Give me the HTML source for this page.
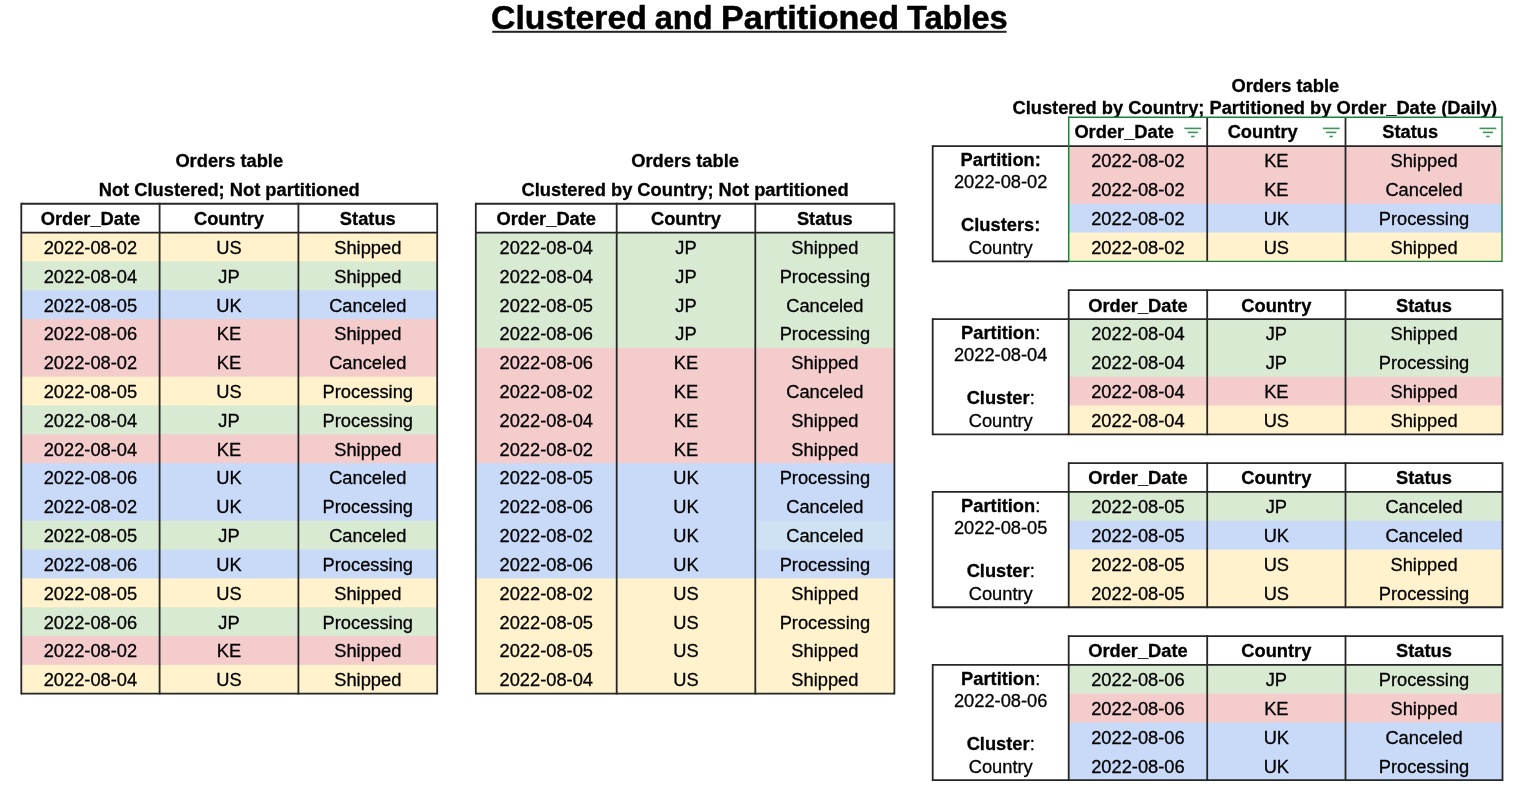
<!DOCTYPE html>
<html lang="en"><head><meta charset="utf-8"><title>Clustered and Partitioned Tables</title>
<style>
html,body{margin:0;padding:0;background:#fff;}
body{width:1536px;height:810px;overflow:hidden;}
body{position:relative;}
svg{display:block;position:absolute;left:0;top:0;}
svg.tx{transform:translateZ(0);will-change:transform;}
text{font-family:'Liberation Sans', Arial, sans-serif;font-size:18.3px;fill:#000;stroke:#000;stroke-width:0.3px;stroke-linejoin:round;}
.b{font-weight:700;}
.n{font-weight:400;}
.t{font-weight:700;font-size:32.7px;stroke-width:0.5px;}
</style></head><body>
<svg width="1536" height="810" viewBox="0 0 1536 810">
<rect x="0" y="0" width="1536" height="810" fill="#ffffff"/>
<rect x="21.30" y="232.58" width="415.90" height="29.82" fill="#fff2cc"/>
<rect x="21.30" y="261.40" width="415.90" height="29.82" fill="#d9ead3"/>
<rect x="21.30" y="290.22" width="415.90" height="29.82" fill="#c9daf8"/>
<rect x="21.30" y="319.04" width="415.90" height="29.82" fill="#f4cccc"/>
<rect x="21.30" y="347.86" width="415.90" height="29.82" fill="#f4cccc"/>
<rect x="21.30" y="376.68" width="415.90" height="29.82" fill="#fff2cc"/>
<rect x="21.30" y="405.50" width="415.90" height="29.82" fill="#d9ead3"/>
<rect x="21.30" y="434.32" width="415.90" height="29.82" fill="#f4cccc"/>
<rect x="21.30" y="463.14" width="415.90" height="29.82" fill="#c9daf8"/>
<rect x="21.30" y="491.96" width="415.90" height="29.82" fill="#c9daf8"/>
<rect x="21.30" y="520.78" width="415.90" height="29.82" fill="#d9ead3"/>
<rect x="21.30" y="549.60" width="415.90" height="29.82" fill="#c9daf8"/>
<rect x="21.30" y="578.42" width="415.90" height="29.82" fill="#fff2cc"/>
<rect x="21.30" y="607.24" width="415.90" height="29.82" fill="#d9ead3"/>
<rect x="21.30" y="636.06" width="415.90" height="29.82" fill="#f4cccc"/>
<rect x="21.30" y="664.88" width="415.90" height="28.82" fill="#fff2cc"/>
<line x1="21.30" y1="202.86" x2="21.30" y2="694.60" stroke="#262626" stroke-width="1.8"/>
<line x1="159.60" y1="202.86" x2="159.60" y2="694.60" stroke="#262626" stroke-width="1.8"/>
<line x1="298.40" y1="202.86" x2="298.40" y2="694.60" stroke="#262626" stroke-width="1.8"/>
<line x1="437.20" y1="202.86" x2="437.20" y2="694.60" stroke="#262626" stroke-width="1.8"/>
<line x1="21.30" y1="203.76" x2="437.20" y2="203.76" stroke="#262626" stroke-width="1.8"/>
<line x1="21.30" y1="232.58" x2="437.20" y2="232.58" stroke="#262626" stroke-width="1.8"/>
<line x1="21.30" y1="693.70" x2="437.20" y2="693.70" stroke="#262626" stroke-width="1.8"/>
<rect x="475.80" y="232.58" width="418.60" height="29.82" fill="#d9ead3"/>
<rect x="475.80" y="261.40" width="418.60" height="29.82" fill="#d9ead3"/>
<rect x="475.80" y="290.22" width="418.60" height="29.82" fill="#d9ead3"/>
<rect x="475.80" y="319.04" width="418.60" height="29.82" fill="#d9ead3"/>
<rect x="475.80" y="347.86" width="418.60" height="29.82" fill="#f4cccc"/>
<rect x="475.80" y="376.68" width="418.60" height="29.82" fill="#f4cccc"/>
<rect x="475.80" y="405.50" width="418.60" height="29.82" fill="#f4cccc"/>
<rect x="475.80" y="434.32" width="418.60" height="29.82" fill="#f4cccc"/>
<rect x="475.80" y="463.14" width="418.60" height="29.82" fill="#c9daf8"/>
<rect x="475.80" y="491.96" width="418.60" height="29.82" fill="#c9daf8"/>
<rect x="475.80" y="520.78" width="418.60" height="29.82" fill="#c9daf8"/>
<rect x="755.30" y="520.78" width="139.10" height="29.82" fill="#cfe2f3"/>
<rect x="475.80" y="549.60" width="418.60" height="29.82" fill="#c9daf8"/>
<rect x="475.80" y="578.42" width="418.60" height="29.82" fill="#fff2cc"/>
<rect x="475.80" y="607.24" width="418.60" height="29.82" fill="#fff2cc"/>
<rect x="475.80" y="636.06" width="418.60" height="29.82" fill="#fff2cc"/>
<rect x="475.80" y="664.88" width="418.60" height="28.82" fill="#fff2cc"/>
<line x1="475.80" y1="202.86" x2="475.80" y2="694.60" stroke="#262626" stroke-width="1.8"/>
<line x1="616.70" y1="202.86" x2="616.70" y2="694.60" stroke="#262626" stroke-width="1.8"/>
<line x1="755.30" y1="202.86" x2="755.30" y2="694.60" stroke="#262626" stroke-width="1.8"/>
<line x1="894.40" y1="202.86" x2="894.40" y2="694.60" stroke="#262626" stroke-width="1.8"/>
<line x1="475.80" y1="203.76" x2="894.40" y2="203.76" stroke="#262626" stroke-width="1.8"/>
<line x1="475.80" y1="232.58" x2="894.40" y2="232.58" stroke="#262626" stroke-width="1.8"/>
<line x1="475.80" y1="693.70" x2="894.40" y2="693.70" stroke="#262626" stroke-width="1.8"/>
<rect x="1068.70" y="146.12" width="433.80" height="29.82" fill="#f4cccc"/>
<rect x="1068.70" y="174.94" width="433.80" height="29.82" fill="#f4cccc"/>
<rect x="1068.70" y="203.76" width="433.80" height="29.82" fill="#c9daf8"/>
<rect x="1068.70" y="232.58" width="433.80" height="28.82" fill="#fff2cc"/>
<line x1="932.70" y1="145.22" x2="932.70" y2="262.30" stroke="#262626" stroke-width="1.8"/>
<line x1="932.70" y1="146.12" x2="1068.70" y2="146.12" stroke="#262626" stroke-width="1.8"/>
<line x1="932.70" y1="261.40" x2="1068.70" y2="261.40" stroke="#262626" stroke-width="1.8"/>
<line x1="1207.20" y1="117.30" x2="1207.20" y2="261.40" stroke="#262626" stroke-width="1.8"/>
<line x1="1345.50" y1="117.30" x2="1345.50" y2="261.40" stroke="#262626" stroke-width="1.8"/>
<line x1="1068.70" y1="146.12" x2="1502.50" y2="146.12" stroke="#262626" stroke-width="1.8"/>
<line x1="1068.70" y1="116.50" x2="1068.70" y2="262.20" stroke="#188038" stroke-width="1.5"/>
<line x1="1502.00" y1="116.50" x2="1502.00" y2="262.20" stroke="#188038" stroke-width="1.4"/>
<line x1="1068.70" y1="261.40" x2="1502.00" y2="261.40" stroke="#188038" stroke-width="1.4"/>
<line x1="1184.40" y1="128.40" x2="1201.20" y2="128.40" stroke="#3d9457" stroke-width="1.6"/>
<line x1="1187.70" y1="132.40" x2="1197.90" y2="132.40" stroke="#3d9457" stroke-width="1.6"/>
<line x1="1191.10" y1="136.50" x2="1194.50" y2="136.50" stroke="#3d9457" stroke-width="1.6"/>
<line x1="1322.80" y1="128.40" x2="1339.60" y2="128.40" stroke="#3d9457" stroke-width="1.6"/>
<line x1="1326.10" y1="132.40" x2="1336.30" y2="132.40" stroke="#3d9457" stroke-width="1.6"/>
<line x1="1329.50" y1="136.50" x2="1332.90" y2="136.50" stroke="#3d9457" stroke-width="1.6"/>
<line x1="1479.50" y1="128.40" x2="1496.30" y2="128.40" stroke="#3d9457" stroke-width="1.6"/>
<line x1="1482.80" y1="132.40" x2="1493.00" y2="132.40" stroke="#3d9457" stroke-width="1.6"/>
<line x1="1486.20" y1="136.50" x2="1489.60" y2="136.50" stroke="#3d9457" stroke-width="1.6"/>
<rect x="1068.70" y="319.04" width="433.80" height="29.82" fill="#d9ead3"/>
<rect x="1068.70" y="347.86" width="433.80" height="29.82" fill="#d9ead3"/>
<rect x="1068.70" y="376.68" width="433.80" height="29.82" fill="#f4cccc"/>
<rect x="1068.70" y="405.50" width="433.80" height="28.82" fill="#fff2cc"/>
<line x1="932.70" y1="318.14" x2="932.70" y2="435.22" stroke="#262626" stroke-width="1.8"/>
<line x1="932.70" y1="319.04" x2="1068.70" y2="319.04" stroke="#262626" stroke-width="1.8"/>
<line x1="932.70" y1="434.32" x2="1068.70" y2="434.32" stroke="#262626" stroke-width="1.8"/>
<line x1="1068.70" y1="289.32" x2="1068.70" y2="435.22" stroke="#262626" stroke-width="1.8"/>
<line x1="1207.20" y1="289.32" x2="1207.20" y2="435.22" stroke="#262626" stroke-width="1.8"/>
<line x1="1345.50" y1="289.32" x2="1345.50" y2="435.22" stroke="#262626" stroke-width="1.8"/>
<line x1="1502.50" y1="289.32" x2="1502.50" y2="435.22" stroke="#262626" stroke-width="1.8"/>
<line x1="1068.70" y1="290.22" x2="1502.50" y2="290.22" stroke="#262626" stroke-width="1.8"/>
<line x1="1068.70" y1="319.04" x2="1502.50" y2="319.04" stroke="#262626" stroke-width="1.8"/>
<line x1="1068.70" y1="434.32" x2="1502.50" y2="434.32" stroke="#262626" stroke-width="1.8"/>
<rect x="1068.70" y="491.96" width="433.80" height="29.82" fill="#d9ead3"/>
<rect x="1068.70" y="520.78" width="433.80" height="29.82" fill="#c9daf8"/>
<rect x="1068.70" y="549.60" width="433.80" height="29.82" fill="#fff2cc"/>
<rect x="1068.70" y="578.42" width="433.80" height="28.82" fill="#fff2cc"/>
<line x1="932.70" y1="491.06" x2="932.70" y2="608.14" stroke="#262626" stroke-width="1.8"/>
<line x1="932.70" y1="491.96" x2="1068.70" y2="491.96" stroke="#262626" stroke-width="1.8"/>
<line x1="932.70" y1="607.24" x2="1068.70" y2="607.24" stroke="#262626" stroke-width="1.8"/>
<line x1="1068.70" y1="462.24" x2="1068.70" y2="608.14" stroke="#262626" stroke-width="1.8"/>
<line x1="1207.20" y1="462.24" x2="1207.20" y2="608.14" stroke="#262626" stroke-width="1.8"/>
<line x1="1345.50" y1="462.24" x2="1345.50" y2="608.14" stroke="#262626" stroke-width="1.8"/>
<line x1="1502.50" y1="462.24" x2="1502.50" y2="608.14" stroke="#262626" stroke-width="1.8"/>
<line x1="1068.70" y1="463.14" x2="1502.50" y2="463.14" stroke="#262626" stroke-width="1.8"/>
<line x1="1068.70" y1="491.96" x2="1502.50" y2="491.96" stroke="#262626" stroke-width="1.8"/>
<line x1="1068.70" y1="607.24" x2="1502.50" y2="607.24" stroke="#262626" stroke-width="1.8"/>
<rect x="1068.70" y="664.88" width="433.80" height="29.82" fill="#d9ead3"/>
<rect x="1068.70" y="693.70" width="433.80" height="29.82" fill="#f4cccc"/>
<rect x="1068.70" y="722.52" width="433.80" height="29.82" fill="#c9daf8"/>
<rect x="1068.70" y="751.34" width="433.80" height="28.82" fill="#c9daf8"/>
<line x1="932.70" y1="663.98" x2="932.70" y2="781.06" stroke="#262626" stroke-width="1.8"/>
<line x1="932.70" y1="664.88" x2="1068.70" y2="664.88" stroke="#262626" stroke-width="1.8"/>
<line x1="932.70" y1="780.16" x2="1068.70" y2="780.16" stroke="#262626" stroke-width="1.8"/>
<line x1="1068.70" y1="635.16" x2="1068.70" y2="781.06" stroke="#262626" stroke-width="1.8"/>
<line x1="1207.20" y1="635.16" x2="1207.20" y2="781.06" stroke="#262626" stroke-width="1.8"/>
<line x1="1345.50" y1="635.16" x2="1345.50" y2="781.06" stroke="#262626" stroke-width="1.8"/>
<line x1="1502.50" y1="635.16" x2="1502.50" y2="781.06" stroke="#262626" stroke-width="1.8"/>
<line x1="1068.70" y1="636.06" x2="1502.50" y2="636.06" stroke="#262626" stroke-width="1.8"/>
<line x1="1068.70" y1="664.88" x2="1502.50" y2="664.88" stroke="#262626" stroke-width="1.8"/>
<line x1="1068.70" y1="780.16" x2="1502.50" y2="780.16" stroke="#262626" stroke-width="1.8"/>
<rect x="492.20" y="30.80" width="514.40" height="2.00" fill="#222"/>
</svg>
<svg class="tx" width="1536" height="810" viewBox="0 0 1536 810">
<defs><clipPath id="ct"><rect x="900" y="90" width="636" height="27.3"/></clipPath></defs>
<text x="90.45" y="225.06" class="b" text-anchor="middle">Order_Date</text>
<text x="90.45" y="253.88" class="n" text-anchor="middle">2022-08-02</text>
<text x="90.45" y="282.70" class="n" text-anchor="middle">2022-08-04</text>
<text x="90.45" y="311.52" class="n" text-anchor="middle">2022-08-05</text>
<text x="90.45" y="340.34" class="n" text-anchor="middle">2022-08-06</text>
<text x="90.45" y="369.16" class="n" text-anchor="middle">2022-08-02</text>
<text x="90.45" y="397.98" class="n" text-anchor="middle">2022-08-05</text>
<text x="90.45" y="426.80" class="n" text-anchor="middle">2022-08-04</text>
<text x="90.45" y="455.62" class="n" text-anchor="middle">2022-08-04</text>
<text x="90.45" y="484.44" class="n" text-anchor="middle">2022-08-06</text>
<text x="90.45" y="513.26" class="n" text-anchor="middle">2022-08-02</text>
<text x="90.45" y="542.08" class="n" text-anchor="middle">2022-08-05</text>
<text x="90.45" y="570.90" class="n" text-anchor="middle">2022-08-06</text>
<text x="90.45" y="599.72" class="n" text-anchor="middle">2022-08-05</text>
<text x="90.45" y="628.54" class="n" text-anchor="middle">2022-08-06</text>
<text x="90.45" y="657.36" class="n" text-anchor="middle">2022-08-02</text>
<text x="90.45" y="686.18" class="n" text-anchor="middle">2022-08-04</text>
<text x="229.00" y="225.06" class="b" text-anchor="middle">Country</text>
<text x="229.00" y="253.88" class="n" text-anchor="middle">US</text>
<text x="229.00" y="282.70" class="n" text-anchor="middle">JP</text>
<text x="229.00" y="311.52" class="n" text-anchor="middle">UK</text>
<text x="229.00" y="340.34" class="n" text-anchor="middle">KE</text>
<text x="229.00" y="369.16" class="n" text-anchor="middle">KE</text>
<text x="229.00" y="397.98" class="n" text-anchor="middle">US</text>
<text x="229.00" y="426.80" class="n" text-anchor="middle">JP</text>
<text x="229.00" y="455.62" class="n" text-anchor="middle">KE</text>
<text x="229.00" y="484.44" class="n" text-anchor="middle">UK</text>
<text x="229.00" y="513.26" class="n" text-anchor="middle">UK</text>
<text x="229.00" y="542.08" class="n" text-anchor="middle">JP</text>
<text x="229.00" y="570.90" class="n" text-anchor="middle">UK</text>
<text x="229.00" y="599.72" class="n" text-anchor="middle">US</text>
<text x="229.00" y="628.54" class="n" text-anchor="middle">JP</text>
<text x="229.00" y="657.36" class="n" text-anchor="middle">KE</text>
<text x="229.00" y="686.18" class="n" text-anchor="middle">US</text>
<text x="367.80" y="225.06" class="b" text-anchor="middle">Status</text>
<text x="367.80" y="253.88" class="n" text-anchor="middle">Shipped</text>
<text x="367.80" y="282.70" class="n" text-anchor="middle">Shipped</text>
<text x="367.80" y="311.52" class="n" text-anchor="middle">Canceled</text>
<text x="367.80" y="340.34" class="n" text-anchor="middle">Shipped</text>
<text x="367.80" y="369.16" class="n" text-anchor="middle">Canceled</text>
<text x="367.80" y="397.98" class="n" text-anchor="middle">Processing</text>
<text x="367.80" y="426.80" class="n" text-anchor="middle">Processing</text>
<text x="367.80" y="455.62" class="n" text-anchor="middle">Shipped</text>
<text x="367.80" y="484.44" class="n" text-anchor="middle">Canceled</text>
<text x="367.80" y="513.26" class="n" text-anchor="middle">Processing</text>
<text x="367.80" y="542.08" class="n" text-anchor="middle">Canceled</text>
<text x="367.80" y="570.90" class="n" text-anchor="middle">Processing</text>
<text x="367.80" y="599.72" class="n" text-anchor="middle">Shipped</text>
<text x="367.80" y="628.54" class="n" text-anchor="middle">Processing</text>
<text x="367.80" y="657.36" class="n" text-anchor="middle">Shipped</text>
<text x="367.80" y="686.18" class="n" text-anchor="middle">Shipped</text>
<text x="229.25" y="167.42" class="b" text-anchor="middle">Orders table</text>
<text x="229.25" y="196.24" class="b" text-anchor="middle">Not Clustered; Not partitioned</text>
<text x="546.25" y="225.06" class="b" text-anchor="middle">Order_Date</text>
<text x="546.25" y="253.88" class="n" text-anchor="middle">2022-08-04</text>
<text x="546.25" y="282.70" class="n" text-anchor="middle">2022-08-04</text>
<text x="546.25" y="311.52" class="n" text-anchor="middle">2022-08-05</text>
<text x="546.25" y="340.34" class="n" text-anchor="middle">2022-08-06</text>
<text x="546.25" y="369.16" class="n" text-anchor="middle">2022-08-06</text>
<text x="546.25" y="397.98" class="n" text-anchor="middle">2022-08-02</text>
<text x="546.25" y="426.80" class="n" text-anchor="middle">2022-08-04</text>
<text x="546.25" y="455.62" class="n" text-anchor="middle">2022-08-02</text>
<text x="546.25" y="484.44" class="n" text-anchor="middle">2022-08-05</text>
<text x="546.25" y="513.26" class="n" text-anchor="middle">2022-08-06</text>
<text x="546.25" y="542.08" class="n" text-anchor="middle">2022-08-02</text>
<text x="546.25" y="570.90" class="n" text-anchor="middle">2022-08-06</text>
<text x="546.25" y="599.72" class="n" text-anchor="middle">2022-08-02</text>
<text x="546.25" y="628.54" class="n" text-anchor="middle">2022-08-05</text>
<text x="546.25" y="657.36" class="n" text-anchor="middle">2022-08-05</text>
<text x="546.25" y="686.18" class="n" text-anchor="middle">2022-08-04</text>
<text x="686.00" y="225.06" class="b" text-anchor="middle">Country</text>
<text x="686.00" y="253.88" class="n" text-anchor="middle">JP</text>
<text x="686.00" y="282.70" class="n" text-anchor="middle">JP</text>
<text x="686.00" y="311.52" class="n" text-anchor="middle">JP</text>
<text x="686.00" y="340.34" class="n" text-anchor="middle">JP</text>
<text x="686.00" y="369.16" class="n" text-anchor="middle">KE</text>
<text x="686.00" y="397.98" class="n" text-anchor="middle">KE</text>
<text x="686.00" y="426.80" class="n" text-anchor="middle">KE</text>
<text x="686.00" y="455.62" class="n" text-anchor="middle">KE</text>
<text x="686.00" y="484.44" class="n" text-anchor="middle">UK</text>
<text x="686.00" y="513.26" class="n" text-anchor="middle">UK</text>
<text x="686.00" y="542.08" class="n" text-anchor="middle">UK</text>
<text x="686.00" y="570.90" class="n" text-anchor="middle">UK</text>
<text x="686.00" y="599.72" class="n" text-anchor="middle">US</text>
<text x="686.00" y="628.54" class="n" text-anchor="middle">US</text>
<text x="686.00" y="657.36" class="n" text-anchor="middle">US</text>
<text x="686.00" y="686.18" class="n" text-anchor="middle">US</text>
<text x="824.85" y="225.06" class="b" text-anchor="middle">Status</text>
<text x="824.85" y="253.88" class="n" text-anchor="middle">Shipped</text>
<text x="824.85" y="282.70" class="n" text-anchor="middle">Processing</text>
<text x="824.85" y="311.52" class="n" text-anchor="middle">Canceled</text>
<text x="824.85" y="340.34" class="n" text-anchor="middle">Processing</text>
<text x="824.85" y="369.16" class="n" text-anchor="middle">Shipped</text>
<text x="824.85" y="397.98" class="n" text-anchor="middle">Canceled</text>
<text x="824.85" y="426.80" class="n" text-anchor="middle">Shipped</text>
<text x="824.85" y="455.62" class="n" text-anchor="middle">Shipped</text>
<text x="824.85" y="484.44" class="n" text-anchor="middle">Processing</text>
<text x="824.85" y="513.26" class="n" text-anchor="middle">Canceled</text>
<text x="824.85" y="542.08" class="n" text-anchor="middle">Canceled</text>
<text x="824.85" y="570.90" class="n" text-anchor="middle">Processing</text>
<text x="824.85" y="599.72" class="n" text-anchor="middle">Shipped</text>
<text x="824.85" y="628.54" class="n" text-anchor="middle">Processing</text>
<text x="824.85" y="657.36" class="n" text-anchor="middle">Shipped</text>
<text x="824.85" y="686.18" class="n" text-anchor="middle">Shipped</text>
<text x="685.10" y="167.42" class="b" text-anchor="middle">Orders table</text>
<text x="685.10" y="196.24" class="b" text-anchor="middle">Clustered by Country; Not partitioned</text>
<text x="1137.95" y="167.42" class="n" text-anchor="middle">2022-08-02</text>
<text x="1137.95" y="196.24" class="n" text-anchor="middle">2022-08-02</text>
<text x="1137.95" y="225.06" class="n" text-anchor="middle">2022-08-02</text>
<text x="1137.95" y="253.88" class="n" text-anchor="middle">2022-08-02</text>
<text x="1276.35" y="167.42" class="n" text-anchor="middle">KE</text>
<text x="1276.35" y="196.24" class="n" text-anchor="middle">KE</text>
<text x="1276.35" y="225.06" class="n" text-anchor="middle">UK</text>
<text x="1276.35" y="253.88" class="n" text-anchor="middle">US</text>
<text x="1424.00" y="167.42" class="n" text-anchor="middle">Shipped</text>
<text x="1424.00" y="196.24" class="n" text-anchor="middle">Canceled</text>
<text x="1424.00" y="225.06" class="n" text-anchor="middle">Processing</text>
<text x="1424.00" y="253.88" class="n" text-anchor="middle">Shipped</text>
<text x="1000.70" y="165.92" class="b" text-anchor="middle">Partition:</text>
<text x="1000.70" y="187.77" class="n" text-anchor="middle">2022-08-02</text>
<text x="1000.70" y="231.47" class="b" text-anchor="middle">Clusters:</text>
<text x="1000.70" y="253.82" class="n" text-anchor="middle">Country</text>
<text x="1074.40" y="138.00" class="b" text-anchor="start">Order_Date</text>
<text x="1262.70" y="138.00" class="b" text-anchor="middle">Country</text>
<text x="1410.25" y="138.00" class="b" text-anchor="middle">Status</text>
<text x="1137.95" y="311.52" class="b" text-anchor="middle">Order_Date</text>
<text x="1137.95" y="340.34" class="n" text-anchor="middle">2022-08-04</text>
<text x="1137.95" y="369.16" class="n" text-anchor="middle">2022-08-04</text>
<text x="1137.95" y="397.98" class="n" text-anchor="middle">2022-08-04</text>
<text x="1137.95" y="426.80" class="n" text-anchor="middle">2022-08-04</text>
<text x="1276.35" y="311.52" class="b" text-anchor="middle">Country</text>
<text x="1276.35" y="340.34" class="n" text-anchor="middle">JP</text>
<text x="1276.35" y="369.16" class="n" text-anchor="middle">JP</text>
<text x="1276.35" y="397.98" class="n" text-anchor="middle">KE</text>
<text x="1276.35" y="426.80" class="n" text-anchor="middle">US</text>
<text x="1424.00" y="311.52" class="b" text-anchor="middle">Status</text>
<text x="1424.00" y="340.34" class="n" text-anchor="middle">Shipped</text>
<text x="1424.00" y="369.16" class="n" text-anchor="middle">Processing</text>
<text x="1424.00" y="397.98" class="n" text-anchor="middle">Shipped</text>
<text x="1424.00" y="426.80" class="n" text-anchor="middle">Shipped</text>
<text x="1000.70" y="338.84" class="n" text-anchor="middle"><tspan class="b">Partition</tspan>:</text>
<text x="1000.70" y="360.69" class="n" text-anchor="middle">2022-08-04</text>
<text x="1000.70" y="404.39" class="n" text-anchor="middle"><tspan class="b">Cluster</tspan>:</text>
<text x="1000.70" y="426.74" class="n" text-anchor="middle">Country</text>
<text x="1137.95" y="484.44" class="b" text-anchor="middle">Order_Date</text>
<text x="1137.95" y="513.26" class="n" text-anchor="middle">2022-08-05</text>
<text x="1137.95" y="542.08" class="n" text-anchor="middle">2022-08-05</text>
<text x="1137.95" y="570.90" class="n" text-anchor="middle">2022-08-05</text>
<text x="1137.95" y="599.72" class="n" text-anchor="middle">2022-08-05</text>
<text x="1276.35" y="484.44" class="b" text-anchor="middle">Country</text>
<text x="1276.35" y="513.26" class="n" text-anchor="middle">JP</text>
<text x="1276.35" y="542.08" class="n" text-anchor="middle">UK</text>
<text x="1276.35" y="570.90" class="n" text-anchor="middle">US</text>
<text x="1276.35" y="599.72" class="n" text-anchor="middle">US</text>
<text x="1424.00" y="484.44" class="b" text-anchor="middle">Status</text>
<text x="1424.00" y="513.26" class="n" text-anchor="middle">Canceled</text>
<text x="1424.00" y="542.08" class="n" text-anchor="middle">Canceled</text>
<text x="1424.00" y="570.90" class="n" text-anchor="middle">Shipped</text>
<text x="1424.00" y="599.72" class="n" text-anchor="middle">Processing</text>
<text x="1000.70" y="511.76" class="n" text-anchor="middle"><tspan class="b">Partition</tspan>:</text>
<text x="1000.70" y="533.61" class="n" text-anchor="middle">2022-08-05</text>
<text x="1000.70" y="577.31" class="n" text-anchor="middle"><tspan class="b">Cluster</tspan>:</text>
<text x="1000.70" y="599.66" class="n" text-anchor="middle">Country</text>
<text x="1137.95" y="657.36" class="b" text-anchor="middle">Order_Date</text>
<text x="1137.95" y="686.18" class="n" text-anchor="middle">2022-08-06</text>
<text x="1137.95" y="715.00" class="n" text-anchor="middle">2022-08-06</text>
<text x="1137.95" y="743.82" class="n" text-anchor="middle">2022-08-06</text>
<text x="1137.95" y="772.64" class="n" text-anchor="middle">2022-08-06</text>
<text x="1276.35" y="657.36" class="b" text-anchor="middle">Country</text>
<text x="1276.35" y="686.18" class="n" text-anchor="middle">JP</text>
<text x="1276.35" y="715.00" class="n" text-anchor="middle">KE</text>
<text x="1276.35" y="743.82" class="n" text-anchor="middle">UK</text>
<text x="1276.35" y="772.64" class="n" text-anchor="middle">UK</text>
<text x="1424.00" y="657.36" class="b" text-anchor="middle">Status</text>
<text x="1424.00" y="686.18" class="n" text-anchor="middle">Processing</text>
<text x="1424.00" y="715.00" class="n" text-anchor="middle">Shipped</text>
<text x="1424.00" y="743.82" class="n" text-anchor="middle">Canceled</text>
<text x="1424.00" y="772.64" class="n" text-anchor="middle">Processing</text>
<text x="1000.70" y="684.68" class="n" text-anchor="middle"><tspan class="b">Partition</tspan>:</text>
<text x="1000.70" y="706.53" class="n" text-anchor="middle">2022-08-06</text>
<text x="1000.70" y="750.23" class="n" text-anchor="middle"><tspan class="b">Cluster</tspan>:</text>
<text x="1000.70" y="772.58" class="n" text-anchor="middle">Country</text>
<text x="1285.30" y="91.70" class="b" text-anchor="middle">Orders table</text>
<text x="1497.00" y="113.50" class="b" text-anchor="end" clip-path="url(#ct)">Clustered by Country; Partitioned by Order_Date (Daily)</text>
<text y="29.3" class="t"><tspan x="491.1" textLength="155.75" lengthAdjust="spacingAndGlyphs">Clustered</tspan> <tspan x="654.8" textLength="57.7" lengthAdjust="spacingAndGlyphs">and</tspan> <tspan x="721.1" textLength="177.9" lengthAdjust="spacingAndGlyphs">Partitioned</tspan> <tspan x="907.0" textLength="100.7" lengthAdjust="spacingAndGlyphs">Tables</tspan></text>
<line x1="1067.90" y1="117.30" x2="1502.75" y2="117.30" stroke="#188038" stroke-width="1.6"/>
</svg>
</body></html>
